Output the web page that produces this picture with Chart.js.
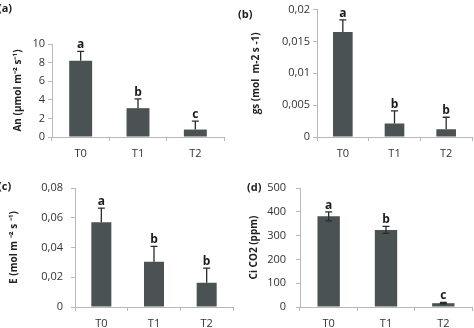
<!DOCTYPE html>
<html>
<head>
<meta charset="utf-8">
<script src="https://cdn.jsdelivr.net/npm/chart.js@4"></script>
<style>
  body { margin: 0; background: #fff; }
  #wrap { position: relative; width: 474px; height: 328px; overflow: hidden; }
  .panel { position: absolute; width: 237px; height: 164px; }
  .lbl { position: absolute; font: bold 11px 'Open Sans', sans-serif; color: #222; }
</style>
</head>
<body>
<div id="wrap">
  <div class="panel" style="left:0;top:0"><canvas id="chartA"></canvas></div>
  <div class="panel" style="left:237px;top:0"><canvas id="chartB"></canvas></div>
  <div class="panel" style="left:0;top:164px"><canvas id="chartC"></canvas></div>
  <div class="panel" style="left:237px;top:164px"><canvas id="chartD"></canvas></div>
  <div class="lbl" style="left:-2px;top:0">(a)</div>
  <div class="lbl" style="left:238px;top:6px">(b)</div>
  <div class="lbl" style="left:-2px;top:178px">(c)</div>
  <div class="lbl" style="left:247px;top:179px">(d)</div>
</div>
<script>
const treatments = ['T0', 'T1', 'T2'];

// (a) net photosynthesis
const anValues = [8.2, 3.1, 0.8];
const anErrors = [1.0, 1.0, 0.9];
const anLetters = ['a', 'b', 'c'];
const anTicks = ['0', '2', '4', '6', '8', '10'];

// (b) stomatal conductance
const gsValues = [0.0165, 0.0021, 0.0012];
const gsErrors = [0.0019, 0.002, 0.0019];
const gsLetters = ['a', 'b', 'b'];
const gsTicks = ['0', '0,005', '0,01', '0,015', '0,02'];

// (c) transpiration
const eValues = [0.057, 0.0305, 0.0163];
const eErrors = [0.0095, 0.0102, 0.0098];
const eLetters = ['a', 'b', 'b'];
const eTicks = ['0', '0,02', '0,04', '0,06', '0,08'];

// (d) intercellular CO2
const ciValues = [381, 324, 16];
const ciErrors = [19, 15, 3];
const ciLetters = ['a', 'b', 'c'];
const ciTicks = ['0', '100', '200', '300', '400', '500'];

const barColour = '#4a5254';
const axisColour = '#b8b8b8';
const tickFont = { family: "'Open Sans', sans-serif", size: 11 };

// error bars + significance letters drawn through the scales
const errorPlugin = {
  id: 'errorBars',
  afterDatasetsDraw(chart, args, opts) {
    const ctx = chart.ctx;
    const meta = chart.getDatasetMeta(0);
    const y = chart.scales.y;
    ctx.save();
    meta.data.forEach((bar, i) => {
      const v = opts.values[i], e = opts.errors[i];
      const top = y.getPixelForValue(v + e);
      const bot = opts.both ? y.getPixelForValue(v - e) : y.getPixelForValue(v);
      ctx.strokeStyle = '#2a2a2a';
      ctx.lineWidth = 1.3;
      ctx.beginPath();
      ctx.moveTo(bar.x, top); ctx.lineTo(bar.x, bot);
      ctx.moveTo(bar.x - 3.5, top); ctx.lineTo(bar.x + 3.5, top);
      if (opts.both) { ctx.moveTo(bar.x - 3.5, bot); ctx.lineTo(bar.x + 3.5, bot); }
      ctx.stroke();
      ctx.fillStyle = '#1a1a1a';
      ctx.font = "bold 12px 'Open Sans', sans-serif";
      ctx.textAlign = 'center';
      ctx.textBaseline = 'bottom';
      ctx.fillText(opts.letters[i], bar.x, top - 0.5);
    });
    ctx.restore();
  }
};

function makeChart(id, values, errors, letters, ticks, cfg) {
  const ctx = document.getElementById(id).getContext('2d');
  return new Chart(ctx, {
    type: 'bar',
    data: {
      labels: treatments,
      datasets: [{
        data: values,
        backgroundColor: barColour,
        barPercentage: cfg.barPct,
        categoryPercentage: 1
      }]
    },
    plugins: [errorPlugin],
    options: {
      responsive: false,
      animation: false,
      devicePixelRatio: 1,
      layout: { padding: { left: 0, top: cfg.top, right: 237 - cfg.right, bottom: 0 } },
      plugins: {
        legend: { display: false },
        tooltip: { enabled: false },
        errorBars: { values: values, errors: errors, letters: letters, both: cfg.both }
      },
      scales: {
        x: {
          offset: true,
          grid: { offset: true, drawOnChartArea: false, drawTicks: true, tickLength: 4, color: axisColour },
          border: { color: axisColour },
          ticks: { color: '#333', font: tickFont, padding: cfg.xPad },
          afterFit(scale) { scale.height = 164 - cfg.bottom; }
        },
        y: {
          min: cfg.min, max: cfg.max,
          grid: { drawOnChartArea: false, drawTicks: true, tickLength: 4, color: axisColour },
          border: { color: axisColour },
          ticks: {
            stepSize: cfg.step,
            color: '#333',
            font: tickFont,
            padding: cfg.yPad,
            callback: (v, i) => ticks[i]
          },
          title: {
            display: true,
            text: cfg.title,
            color: '#222',
            font: { family: "'Open Sans', sans-serif", size: 10, weight: 'bold' },
            padding: { top: cfg.titlePad, bottom: 0 }
          },
          afterFit(scale) { scale.width = cfg.left; }
        }
      }
    }
  });
}

document.querySelectorAll('canvas').forEach(c => { c.width = 237; c.height = 164; });

makeChart('chartA', anValues, anErrors, anLetters, anTicks, {
  left: 52, top: 44, right: 224, bottom: 137, min: 0, max: 10, step: 2,
  yPad: 3, xPad: 6, titlePad: 12, barPct: 0.4, both: false,
  title: 'An (μmol m⁻² s⁻¹)'
});
makeChart('chartB', gsValues, gsErrors, gsLetters, gsTicks, {
  left: 80, top: 8, right: 235, bottom: 137, min: 0, max: 0.02, step: 0.005,
  yPad: 3, xPad: 6, titlePad: 13, barPct: 0.38, both: false,
  title: 'gs (mol  m-2 s -1)'
});
makeChart('chartC', eValues, eErrors, eLetters, eTicks, {
  left: 75, top: 24, right: 233, bottom: 143, min: 0, max: 0.08, step: 0.02,
  yPad: 8, xPad: 6, titlePad: 8, barPct: 0.38, both: false,
  title: 'E (mol m ⁻² s ⁻¹)'
});
makeChart('chartD', ciValues, ciErrors, ciLetters, ciTicks, {
  left: 63, top: 24, right: 235, bottom: 143, min: 0, max: 500, step: 100,
  yPad: 10, xPad: 6, titlePad: 11, barPct: 0.39, both: true,
  title: 'Ci CO2 (ppm)'
});
</script>
</body>
</html>
